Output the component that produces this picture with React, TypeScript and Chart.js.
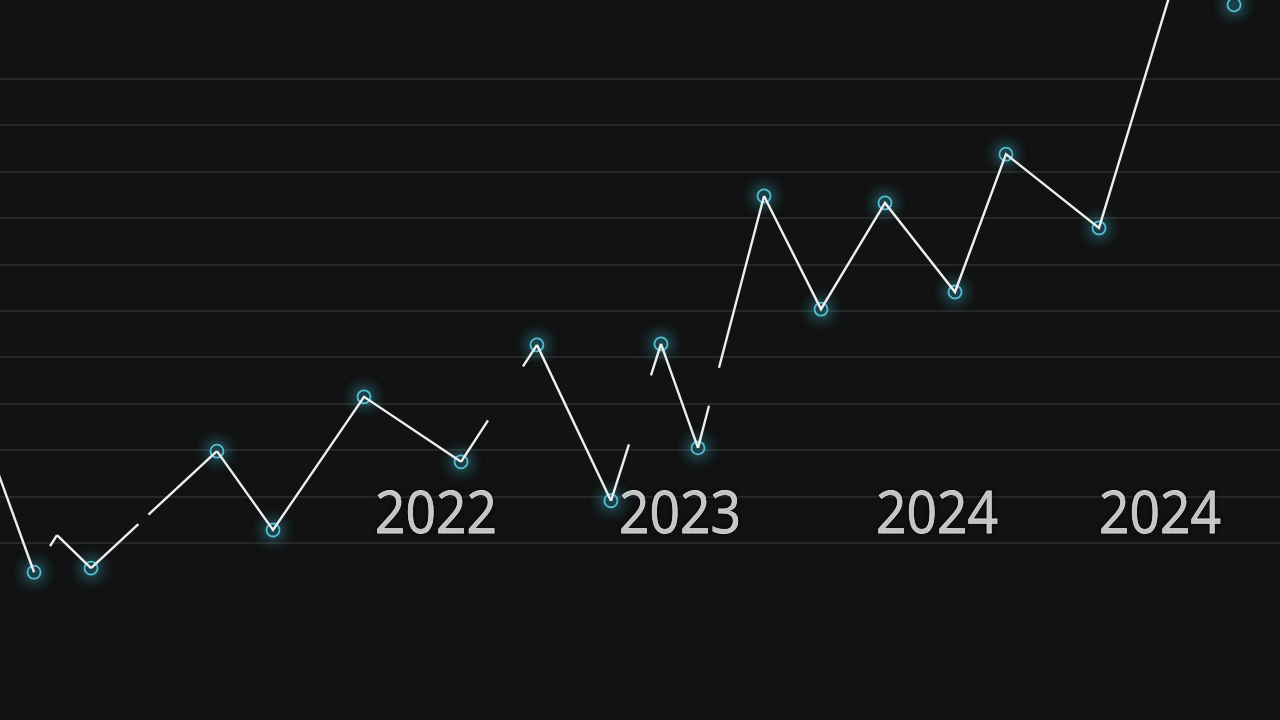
import React, { useEffect, useRef } from "react";
import { Chart, registerables } from "chart.js";

Chart.register(...registerables);

// Series (x: timeline position 0..100, y: value in grid steps 0..10)
const xValues = [-1.95, 2.66, 4.45, 7.11, 16.95, 21.33, 28.44, 36.02, 41.95, 47.73, 51.64, 54.53, 59.69, 64.14, 69.14, 74.61, 78.59, 85.86, 92.97, 96.41];
const yValues = [2.89, -0.63, 0.17, -0.54, 1.98, 0.28, 3.15, 1.75, 4.27, 0.91, 4.29, 2.05, 7.48, 5.04, 7.33, 5.41, 8.38, 6.79, 13.25, 11.6];
const markerShown = [false, true, false, true, true, true, true, true, true, true, true, true, true, true, true, true, true, true, false, true];

// Visible value window and the grid steps that are drawn
const yMin = -3.815;
const yMax = 11.703;
const gridFrom = 0;
const gridTo = 10;

// Year labels and where they sit on the timeline
const yearLabels = ["2022", "2023", "2024", "2024"];
const yearLabelX = [34.06, 53.13, 73.2, 90.63];
const yearLabelY = 0.215;

// Style: broken pieces of the line (segment start index -> [gap start, gap end] as fraction of segment)
const lineGaps: Record<number, [number, number]> = {
  1: [0, 0.7],
  3: [0.376, 0.456],
  7: [0.355, 0.816],
  9: [0.36, 0.8],
  11: [0.167, 0.318],
  18: [0, 1],
};

export default function App() {
  const ref = useRef<HTMLCanvasElement | null>(null);

  useEffect(() => {
    document.body.style.margin = "0";
    document.body.style.background = "#121212";
    const canvas = ref.current;
    if (!canvas) return;
    const points = xValues.map((x, i) => ({ x, y: yValues[i] }));

    const bgPlugin = {
      id: "bg",
      beforeDraw(chart: any) {
        const { ctx, width, height } = chart;
        ctx.save();
        ctx.fillStyle = "#121212";
        ctx.fillRect(0, 0, width, height);
        ctx.restore();
      },
    };

    const labelsPlugin = {
      id: "yearLabels",
      beforeDatasetsDraw(chart: any) {
        const { ctx, scales } = chart;
        ctx.save();
        ctx.font = '58px "Open Sans", "Noto Sans", sans-serif';
        ctx.textAlign = "center";
        ctx.textBaseline = "alphabetic";
        ctx.fillStyle = "#dcdcdc";
        ctx.strokeStyle = "#dcdcdc";
        ctx.lineWidth = 0.8;
        ctx.shadowColor = "rgba(0,0,0,0.6)";
        ctx.shadowBlur = 4;
        yearLabels.forEach((t, i) => {
          const px = scales.x.getPixelForValue(yearLabelX[i]);
          const py = scales.y.getPixelForValue(yearLabelY);
          ctx.save();
          ctx.translate(px, py);
          ctx.scale(0.92, 1);
          ctx.fillText(t, 0, 0);
          ctx.strokeText(t, 0, 0);
          ctx.restore();
        });
        ctx.restore();
      },
    };

    const glowPlugin = {
      id: "glow",
      beforeDatasetDraw(chart: any, args: any) {
        if (args.index === 1) {
          chart.ctx.save();
          chart.ctx.shadowColor = "rgba(70,210,235,1)";
          chart.ctx.shadowBlur = 16;
        }
      },
      afterDatasetDraw(chart: any, args: any) {
        if (args.index === 1) chart.ctx.restore();
      },
    };

    const chart = new Chart(canvas, {
      type: "line",
      data: {
        datasets: [
          {
            data: points,
            borderColor: "#eeeeee",
            borderWidth: 2.4,
            pointRadius: 0,
            tension: 0,
            clip: false as any,
            order: 0,
            segment: {
              borderDash: (c: any) => {
                const g = lineGaps[c.p0DataIndex];
                if (!g) return undefined;
                const len = Math.hypot(c.p1.x - c.p0.x, c.p1.y - c.p0.y);
                return [g[0] * len, (g[1] - g[0]) * len, len * 2];
              },
            },
          },
          {
            data: points,
            showLine: false,
            pointRadius: (c: any) => (markerShown[c.dataIndex] ? 6.5 : 0),
            pointBorderColor: "#56bdd0",
            pointBackgroundColor: "rgba(16,40,46,0.7)",
            pointBorderWidth: 1.8,
            clip: false as any,
            order: 1,
          },
        ],
      },
      options: {
        responsive: false,
        animation: false,
        layout: { autoPadding: false, padding: 0 },
        scales: {
          x: { type: "linear", min: 0, max: 100, display: false },
          y: {
            type: "linear",
            min: yMin,
            max: yMax,
            ticks: { display: false, stepSize: 1, includeBounds: false },
            grid: {
              color: (c: any) =>
                c.tick && c.tick.value >= gridFrom && c.tick.value <= gridTo ? "#272727" : "rgba(0,0,0,0)",
              lineWidth: 2,
              drawTicks: false,
            },
            border: { display: false },
          },
        },
        plugins: {
          legend: { display: false },
          tooltip: { enabled: false },
        },
      },
      plugins: [bgPlugin, labelsPlugin, glowPlugin],
    });
    return () => chart.destroy();
  }, []);

  return <canvas ref={ref} width={1280} height={720} style={{ display: "block" }} />;
}
